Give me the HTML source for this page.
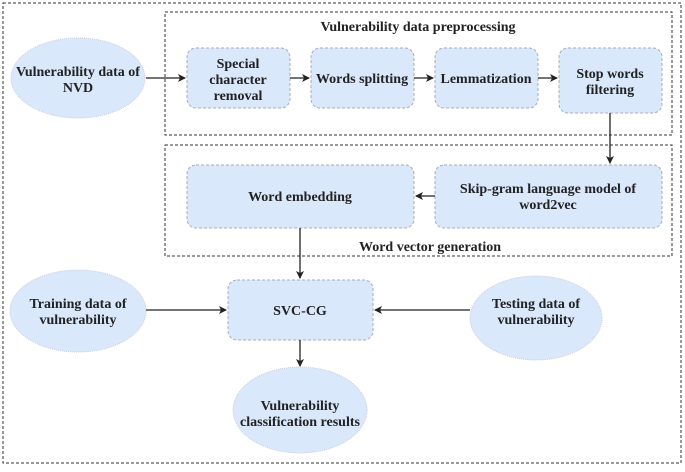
<!DOCTYPE html>
<html><head><meta charset="utf-8"><style>
body{margin:0;background:#fff;}
svg text{font-family:"Liberation Serif",serif;font-weight:bold;font-size:14px;fill:#222;text-anchor:middle;}
</style></head><body>
<svg width="685" height="467" viewBox="0 0 685 467" xmlns="http://www.w3.org/2000/svg">
<defs><marker id="a" markerWidth="8" markerHeight="8" refX="7" refY="4" orient="auto" markerUnits="userSpaceOnUse"><path d="M0,0 L8,4 L0,8 L2,4 z" fill="#222"/></marker></defs>
<g fill="none" stroke="#333" stroke-width="1" stroke-dasharray="3,2">
<rect x="3" y="3" width="678" height="460"/>
<rect x="165" y="12" width="507" height="123"/>
<rect x="165" y="145" width="507" height="111"/>
</g>
<g fill="#dae8fc" stroke="#aab" stroke-width="1" stroke-dasharray="3,2">
<rect x="187" y="48" width="103" height="60" rx="9"/>
<rect x="311" y="48" width="103" height="60" rx="9"/>
<rect x="435" y="48" width="103" height="60" rx="9"/>
<rect x="559" y="48" width="103" height="65" rx="9"/>
<rect x="187" y="165" width="227" height="63" rx="9"/>
<rect x="435" y="165" width="227" height="63" rx="9"/>
<rect x="228" y="280" width="145" height="60" rx="9"/>
</g>
<g fill="#dae8fc" stroke="#ccd" stroke-width="1" stroke-dasharray="1,1">
<ellipse cx="78" cy="78" rx="67" ry="40"/>
<ellipse cx="78" cy="311" rx="68" ry="41"/>
<ellipse cx="536" cy="318" rx="66" ry="42"/>
<ellipse cx="300" cy="410" rx="67" ry="43"/>
</g>
<g stroke="#222" stroke-width="1.3" marker-end="url(#a)">
<line x1="146" y1="78" x2="185" y2="78"/>
<line x1="290" y1="78" x2="309" y2="78"/>
<line x1="414" y1="78" x2="433" y2="78"/>
<line x1="538" y1="78" x2="557" y2="78"/>
<line x1="610" y1="113" x2="610" y2="163"/>
<line x1="435" y1="196" x2="416" y2="196"/>
<line x1="300" y1="228" x2="300" y2="278"/>
<line x1="146" y1="310" x2="226" y2="310"/>
<line x1="470" y1="310" x2="375" y2="310"/>
<line x1="300" y1="340" x2="300" y2="366"/>
</g>
<text x="418" y="31">Vulnerability data preprocessing</text>
<text x="430" y="251">Word vector generation</text>
<text x="78" y="76">Vulnerability data of</text>
<text x="78" y="92">NVD</text>
<text x="238" y="68">Special</text>
<text x="238" y="84">character</text>
<text x="238" y="100">removal</text>
<text x="362" y="83">Words splitting</text>
<text x="486" y="83">Lemmatization</text>
<text x="610" y="78">Stop words</text>
<text x="610" y="94">filtering</text>
<text x="300" y="201">Word embedding</text>
<text x="548" y="193">Skip-gram language model of</text>
<text x="548" y="209">word2vec</text>
<text x="300" y="315">SVC-CG</text>
<text x="78" y="308">Training data of</text>
<text x="78" y="324">vulnerability</text>
<text x="536" y="308">Testing data of</text>
<text x="536" y="324">vulnerability</text>
<text x="300" y="410">Vulnerability</text>
<text x="300" y="426">classification results</text>
</svg>
</body></html>
